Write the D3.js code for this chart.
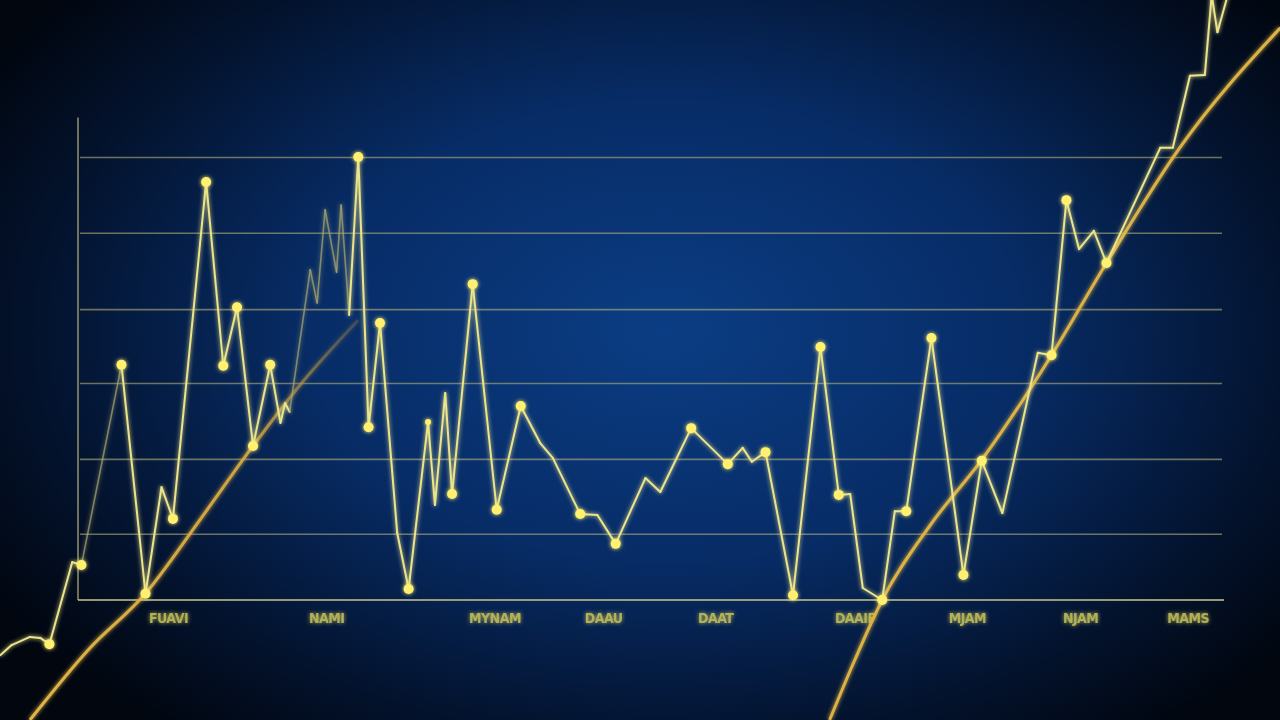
<!DOCTYPE html>
<html><head><meta charset="utf-8">
<script src="https://cdn.jsdelivr.net/npm/d3@7"></script>
<style>html,body{margin:0;padding:0;background:#020812;overflow:hidden}</style>
</head><body>
<svg id="c" width="1280" height="720"></svg>
<script>
// ---- data ----
const mainX = [-6.8,-5.8,-4.2,-3.3,-2.5,-0.5,0.3,3.8,5.9,7.3,8.3,11.2,12.7,13.9,15.3,16.8,17.7,18.1,18.5,20.3,20.9,21.6,22.6,23.0,23.7,24.5,25.4,26.4,27.9,28.9,30.6,31.2,32.1,32.7,34.5,36.6,38.7,40.4,41.5,43.9,45.4,47.0,49.6,50.9,53.6,56.8,58.1,58.9,60.1,62.5,64.9,66.5,67.5,68.6,70.3,71.4,72.4,74.6,77.4,79.0,80.8,83.9,85.1,86.4,87.5,88.8,89.9,94.6,95.7,97.2,98.5,99.1,99.6,100.5];
const mainY = [-11.5,-9.4,-7.7,-7.9,-9.2,7.9,7.3,49.0,1.3,23.5,16.9,87.1,48.8,61.0,32.1,49.0,36.9,41.0,39.2,68.8,61.9,81.3,68.3,82.3,59.4,92.3,36.0,57.7,14.0,2.3,37.1,19.8,43.1,22.1,65.8,18.8,40.4,32.7,29.6,17.9,17.7,11.7,25.4,22.5,35.8,28.3,31.7,28.8,30.8,1.0,52.7,21.9,22.1,2.5,0,18.5,18.5,54.6,5.2,29.0,18.1,51.5,51.0,83.3,73.1,76.9,70.2,94.2,94.2,109.2,109.4,126,118.3,126];
const marked = [0,0,0,0,1,0,1,1,1,0,1,1,1,1,1,1,0,0,0,0,0,0,0,0,0,1,1,1,0,1,2,0,0,1,1,1,1,0,0,1,0,1,0,0,1,1,0,0,1,1,1,1,0,0,1,0,1,1,1,1,0,0,1,1,0,0,1,0,0,0,0,0,0,0];
const trend1X = [-4.2,1.05,5.86,10.66,15.3,19.41,24.48];
const trend1Y = [-25,-10,1.25,16.7,32.1,44.8,58.3];
const trend2X = [65.7,67.9,70.3,74.5,79.0,85.1,89.9,96.3,105.1];
const trend2Y = [-25,-12.5,0,15.6,29.2,51.0,70.2,94.2,119.2];
const gridValues = [13.8,29.4,45.2,60.6,76.5,92.3];
const tickPos = [7.87,21.7,36.4,45.9,55.7,67.9,77.7,87.6,97.0];
const tickLabels = ["FUAVI","NAMI","MYNAM","DAAU","DAAT","DAAIF","MJAM","NJAM","MAMS"];

// ---- drawing ----
const svg = d3.select("#c");
const W = 1280, H = 720;
const x = d3.scaleLinear().domain([0,100]).range([78,1222]);
const y = d3.scaleLinear().domain([0,100]).range([600,120]);
const defs = svg.append("defs");
const bg = defs.append("radialGradient").attr("id","bg").attr("cx","52%").attr("cy","46%").attr("r","62%")
  .attr("gradientTransform","translate(0.5,0.46) scale(1,1.15) translate(-0.5,-0.46)");
bg.append("stop").attr("offset","0%").attr("stop-color","#0b3d84");
bg.append("stop").attr("offset","45%").attr("stop-color","#072c66");
bg.append("stop").attr("offset","80%").attr("stop-color","#03122c");
bg.append("stop").attr("offset","100%").attr("stop-color","#01060f");
svg.append("rect").attr("width",W).attr("height",H).attr("fill","url(#bg)");

const glow = defs.append("filter").attr("id","glow").attr("x","-20%").attr("y","-20%").attr("width","140%").attr("height","140%");
glow.append("feGaussianBlur").attr("stdDeviation",2.2).attr("result","b");
const m = glow.append("feMerge"); m.append("feMergeNode").attr("in","b"); m.append("feMergeNode").attr("in","SourceGraphic");

// gridlines
const gridG = svg.append("g").attr("transform",`translate(${x(0)},0)`)
  .call(d3.axisLeft(y).tickValues(gridValues).tickSize(-(x(100)-x(0))+2).tickFormat(""));
gridG.select(".domain").remove();
gridG.selectAll("line").attr("stroke","#b3b07a").attr("stroke-opacity",0.6).attr("stroke-width",1.6).attr("transform","translate(2,0)");

// y axis line
svg.append("line").attr("x1",x(0)).attr("x2",x(0)).attr("y1",y(100.5)).attr("y2",y(0))
  .attr("stroke","#b8b67e").attr("stroke-opacity",0.75).attr("stroke-width",1.6);
// baseline
svg.append("line").attr("x1",x(0)).attr("x2",x(100)+2).attr("y1",y(0)).attr("y2",y(0))
  .attr("stroke","#bdbb8a").attr("stroke-opacity",0.8).attr("stroke-width",2);

// x labels
const xa = svg.append("g").attr("transform",`translate(0,${y(0)+10})`)
  .call(d3.axisBottom(x).tickValues(tickPos).tickSize(0).tickFormat((d,i)=>tickLabels[i]));
xa.select(".domain").remove();
xa.selectAll("text").attr("fill","#c6c25a").attr("font-family","'Liberation Sans Narrow','DejaVu Sans Condensed',sans-serif")
  .attr("font-weight","bold").attr("font-size",14).attr("letter-spacing","-0.5px").attr("filter","url(#glow)").attr("opacity",0.9);

// trend lines
const lineC = d3.line().x(d=>x(d[0])).y(d=>y(d[1])).curve(d3.curveMonotoneX);
const t1 = trend1X.map((v,i)=>[v,trend1Y[i]]);
const t2 = trend2X.map((v,i)=>[v,trend2Y[i]]);
const g1 = defs.append("linearGradient").attr("id","t1g").attr("gradientUnits","userSpaceOnUse")
  .attr("x1",x(t1[0][0])).attr("y1",y(t1[0][1])).attr("x2",x(t1[t1.length-1][0])).attr("y2",y(t1[t1.length-1][1]));
g1.append("stop").attr("offset","0%").attr("stop-color","#e2b447").attr("stop-opacity",1);
g1.append("stop").attr("offset","65%").attr("stop-color","#d9ab40").attr("stop-opacity",0.9);
g1.append("stop").attr("offset","100%").attr("stop-color","#a88a40").attr("stop-opacity",0.25);
svg.append("path").attr("d",lineC(t1)).attr("fill","none").attr("stroke","url(#t1g)").attr("stroke-width",3).attr("filter","url(#glow)");
svg.append("path").attr("d",lineC(t2)).attr("fill","none").attr("stroke","#dcb244").attr("stroke-width",3).attr("filter","url(#glow)");

// main line segments
const pts = mainX.map((v,i)=>[v,mainY[i]]);
const dim = i => (i===6) || (i>=18 && i<=23);
const segLine = d3.line().x(d=>x(d[0])).y(d=>y(d[1]));
const lg = svg.append("g").attr("filter","url(#glow)");
for (let i=0;i<pts.length-1;i++){
  lg.append("path").attr("d",segLine([pts[i],pts[i+1]])).attr("fill","none")
    .attr("stroke",dim(i)?"#a8a870":"#ebe48a").attr("stroke-opacity",dim(i)?0.7:1)
    .attr("stroke-width",dim(i)?1.6:2).attr("stroke-linecap","round");
}
// markers
svg.append("g").attr("filter","url(#glow)").selectAll("circle")
  .data(pts.map((d,i)=>[d[0],d[1],marked[i]]).filter(d=>d[2])).join("circle")
  .attr("cx",d=>x(d[0])).attr("cy",d=>y(d[1])).attr("r",d=>d[2]===2?3:5).attr("fill","#fff070");
</script>
</body></html>
